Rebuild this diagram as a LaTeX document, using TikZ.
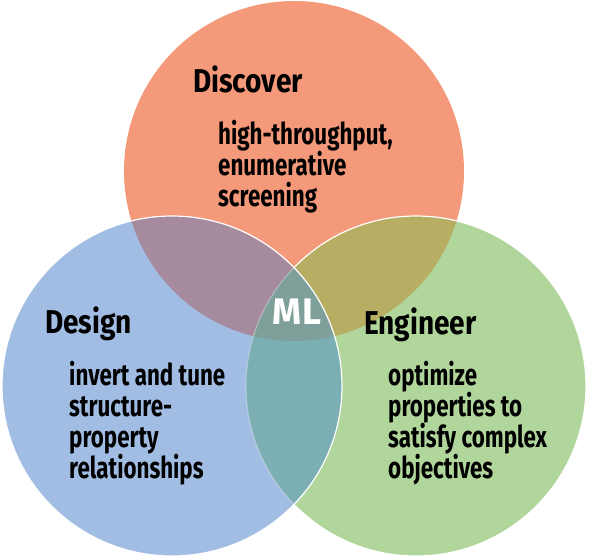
\documentclass[tikz,border=0pt]{standalone}
\usepackage{fontspec}
\newfontfamily\titlefont{Fira Sans}[FakeStretch=0.85]
\newfontfamily\bodyfont{Fira Sans}[FakeStretch=0.745]
\newfontfamily\mlfont{Fira Sans}
\definecolor{discfill}{HTML}{F4997A}
\definecolor{desfill}{HTML}{A2BDE3}
\definecolor{engfill}{HTML}{B1D69B}
\definecolor{discdes}{HTML}{A68B9E}
\definecolor{disceng}{HTML}{B7AE63}
\definecolor{deseng}{HTML}{7BAFB3}
\definecolor{mlfill}{HTML}{7F9F9A}

\begin{document}
\begin{tikzpicture}[x=1pt,y=-1pt,
	title/.style={anchor=base west,inner sep=0pt,font=\titlefont\bfseries\fontsize{33}{36}\selectfont},
	body/.style={anchor=base west,inner sep=0pt,align=left,font=\bodyfont\bfseries\fontsize{30}{31}\selectfont}]
\useasboundingbox (0,0) rectangle (589,557);
\coordinate (t) at (294,171);
\coordinate (l) at (172,386);
\coordinate (r) at (416,386);
% single circles
\fill[discfill] (t) circle [radius=170pt];
\fill[engfill] (r) circle [radius=170pt];
\begin{scope}
	\clip (t) circle [radius=170pt];
	\fill[disceng] (r) circle [radius=170pt];
\end{scope}
\draw[white,line width=1.2pt] (r) circle [radius=170pt];
\fill[desfill] (l) circle [radius=170pt];
% overlaps with the left circle
\begin{scope}
	\clip (l) circle [radius=170pt];
	\fill[discdes] (t) circle [radius=170pt];
	\fill[deseng] (r) circle [radius=170pt];
	\clip (t) circle [radius=170pt];
	\fill[mlfill] (r) circle [radius=170pt];
\end{scope}
\begin{scope}
	\clip (l) circle [radius=170pt];
	\draw[white,opacity=.3,line width=1.2pt] (r) circle [radius=170pt];
\end{scope}
\draw[white,line width=1.2pt] (l) circle [radius=170pt];
% labels (body anchors sit on the last line)
\node[title] (disc) at (193,92) {Discover};
\node[body] (disctxt) at (218,206) {high-throughput,\\enumerative\\screening};
\node[title] (des) at (45,333) {Design};
\node[body] (destxt) at (69,478) {invert and tune\\structure-\\property\\relationships};
\node[title] (eng) at (364,334) {Engineer};
\node[body] (engtxt) at (388,478) {optimize\\properties to\\satisfy complex\\objectives};
\node[anchor=base,inner sep=0pt,text=white,font=\mlfont\bfseries\fontsize{37}{40}\selectfont] (ml) at (297,324) {ML};
\end{tikzpicture}
\end{document}
